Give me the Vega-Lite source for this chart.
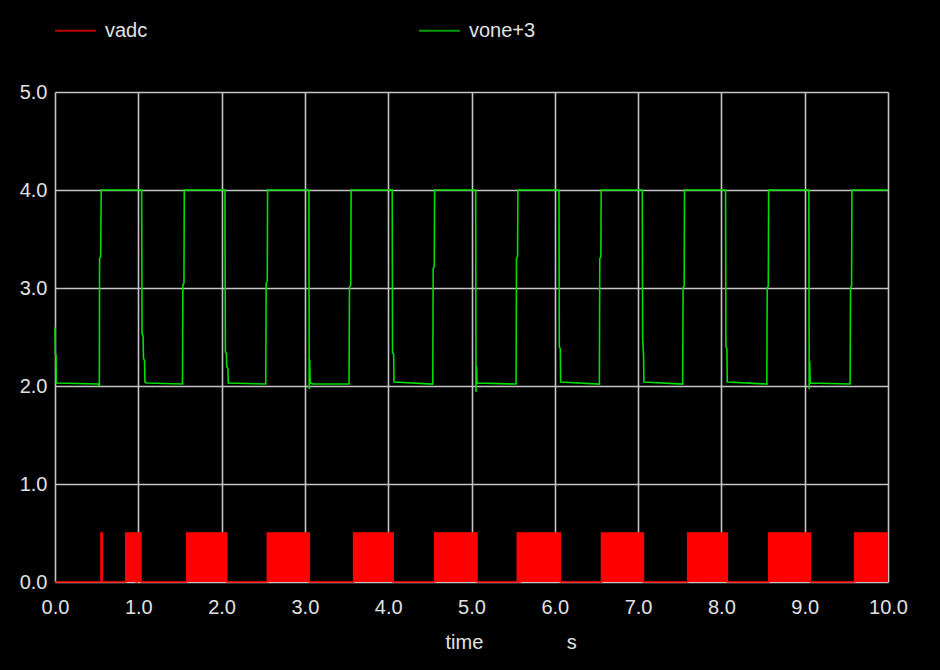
{
  "$schema": "https://vega.github.io/schema/vega-lite/v6.json",
  "width": 833,
  "height": 490,
  "autosize": {"type": "none"},
  "padding": {"left": 55, "top": 92, "right": 52, "bottom": 88},
  "background": "#000000",
  "config": {
    "view": {"stroke": null},
    "font": "Liberation Sans",
    "axis": {
      "grid": true,
      "gridColor": "#c4c4c4",
      "gridWidth": 1.6,
      "domain": false,
      "ticks": false,
      "labelFont": "Liberation Sans",
      "labelFontSize": 20,
      "labelColor": "#e2e2e2",
      "labelFlush": false,
      "labelOverlap": false,
      "labelBound": false,
      "titleFont": "Liberation Sans",
      "titleFontSize": 20,
      "titleFontWeight": "normal",
      "titleColor": "#e2e2e2"
    },
    "legend": {
      "orient": "none",
      "legendX": -1,
      "legendY": -83,
      "direction": "horizontal",
      "symbolType": "stroke",
      "symbolSize": 1681,
      "symbolStrokeWidth": 2,
      "symbolOpacity": 0.72,
      "labelOffset": 8,
      "columnPadding": 267,
      "labelFont": "Liberation Sans",
      "labelFontSize": 20,
      "labelColor": "#e2e2e2"
    }
  },
  "datasets": {
    "vadc": [
      {"t": 0, "v": 0}, {"t": 0.553, "v": 0.5}, {"t": 0.567, "v": 0},
      {"t": 0.849, "v": 0.5}, {"t": 0.972, "v": 0}, {"t": 0.986, "v": 0.5}, {"t": 1.032, "v": 0},
      {"t": 1.581, "v": 0.5}, {"t": 2.061, "v": 0},
      {"t": 2.549, "v": 0.5}, {"t": 3.053, "v": 0},
      {"t": 3.585, "v": 0.5}, {"t": 4.06, "v": 0},
      {"t": 4.558, "v": 0.5}, {"t": 5.066, "v": 0},
      {"t": 5.55, "v": 0.5}, {"t": 5.568, "v": 0}, {"t": 5.586, "v": 0.5}, {"t": 6.065, "v": 0},
      {"t": 6.561, "v": 0.5}, {"t": 7.064, "v": 0},
      {"t": 7.595, "v": 0.5}, {"t": 8.071, "v": 0},
      {"t": 8.569, "v": 0.5}, {"t": 9.067, "v": 0},
      {"t": 9.599, "v": 0.5}, {"t": 10, "v": 0.5}
    ],
    "vone": [
      {"t": 0, "v": 2.6}, {"t": 0.003, "v": 2.33}, {"t": 0.012, "v": 2.31}, {"t": 0.016, "v": 2.03},
      {"t": 0.52, "v": 2.02}, {"t": 0.532, "v": 2.0}, {"t": 0.535, "v": 3.3}, {"t": 0.548, "v": 3.32}, {"t": 0.555, "v": 4.0},
      {"t": 1.04, "v": 4.0}, {"t": 1.045, "v": 2.54}, {"t": 1.058, "v": 2.5}, {"t": 1.062, "v": 2.28}, {"t": 1.075, "v": 2.26}, {"t": 1.08, "v": 2.04}, {"t": 1.1, "v": 2.03},
      {"t": 1.53, "v": 2.02}, {"t": 1.535, "v": 3.03}, {"t": 1.548, "v": 3.05}, {"t": 1.552, "v": 4.0},
      {"t": 2.04, "v": 4.0}, {"t": 2.045, "v": 2.35}, {"t": 2.058, "v": 2.33}, {"t": 2.062, "v": 2.2}, {"t": 2.075, "v": 2.18}, {"t": 2.08, "v": 2.03},
      {"t": 2.53, "v": 2.02}, {"t": 2.535, "v": 3.05}, {"t": 2.548, "v": 3.07}, {"t": 2.552, "v": 4.0},
      {"t": 3.048, "v": 4.0}, {"t": 3.052, "v": 1.97}, {"t": 3.058, "v": 2.27}, {"t": 3.064, "v": 2.03}, {"t": 3.1, "v": 2.02},
      {"t": 3.53, "v": 2.02}, {"t": 3.535, "v": 3.01}, {"t": 3.55, "v": 3.03}, {"t": 3.555, "v": 4.0},
      {"t": 4.048, "v": 4.0}, {"t": 4.052, "v": 2.34}, {"t": 4.065, "v": 2.33}, {"t": 4.07, "v": 2.04},
      {"t": 4.535, "v": 2.02}, {"t": 4.54, "v": 3.2}, {"t": 4.553, "v": 3.22}, {"t": 4.557, "v": 4.0},
      {"t": 5.05, "v": 4.0}, {"t": 5.054, "v": 1.94}, {"t": 5.06, "v": 2.2}, {"t": 5.066, "v": 2.03},
      {"t": 5.535, "v": 2.02}, {"t": 5.54, "v": 3.3}, {"t": 5.553, "v": 3.32}, {"t": 5.557, "v": 4.0},
      {"t": 6.05, "v": 4.0}, {"t": 6.054, "v": 2.4}, {"t": 6.066, "v": 2.38}, {"t": 6.07, "v": 2.04},
      {"t": 6.535, "v": 2.02}, {"t": 6.54, "v": 3.3}, {"t": 6.553, "v": 3.32}, {"t": 6.557, "v": 4.0},
      {"t": 7.05, "v": 4.0}, {"t": 7.054, "v": 2.5}, {"t": 7.066, "v": 2.3}, {"t": 7.07, "v": 2.04},
      {"t": 7.535, "v": 2.02}, {"t": 7.54, "v": 3.0}, {"t": 7.553, "v": 3.02}, {"t": 7.557, "v": 4.0},
      {"t": 8.05, "v": 4.0}, {"t": 8.054, "v": 2.4}, {"t": 8.066, "v": 2.38}, {"t": 8.07, "v": 2.04},
      {"t": 8.545, "v": 2.02}, {"t": 8.55, "v": 3.0}, {"t": 8.563, "v": 3.02}, {"t": 8.567, "v": 4.0},
      {"t": 9.05, "v": 4.0}, {"t": 9.054, "v": 1.97}, {"t": 9.06, "v": 2.25}, {"t": 9.066, "v": 2.03},
      {"t": 9.545, "v": 2.02}, {"t": 9.55, "v": 3.0}, {"t": 9.563, "v": 3.02}, {"t": 9.567, "v": 4.0},
      {"t": 10, "v": 4.0}
    ]
  },
  "encoding": {
    "x": {
      "field": "t",
      "type": "quantitative",
      "scale": {"domain": [0, 10], "nice": false, "zero": false},
      "axis": {
        "values": [0, 1, 2, 3, 4, 5, 6, 7, 8, 9, 10],
        "format": ".1f",
        "labelPadding": 15,
        "title": "time\u00a0\u00a0\u00a0\u00a0\u00a0\u00a0\u00a0\u00a0\u00a0\u00a0\u00a0\u00a0\u00a0\u00a0\u00a0s",
        "titleX": 390,
        "titleY": 66,
        "titleAlign": "left",
        "titleBaseline": "alphabetic",
        "titleAnchor": "start"
      }
    },
    "y": {
      "field": "v",
      "type": "quantitative",
      "scale": {"domain": [0, 5], "nice": false},
      "axis": {
        "values": [0, 1, 2, 3, 4, 5],
        "format": ".1f",
        "labelPadding": 8,
        "title": null
      }
    }
  },
  "layer": [
    {
      "data": {"name": "vadc"},
      "mark": {"type": "area", "interpolate": "step-after", "color": "#ff0000"}
    },
    {
      "data": {"name": "vadc"},
      "mark": {"type": "line", "interpolate": "step-after", "strokeWidth": 1.6},
      "encoding": {
        "color": {
          "datum": "vadc",
          "type": "nominal",
          "scale": {"domain": ["vadc", "vone+3"], "range": ["#ff0000", "#00dd00"]},
          "legend": {"title": null}
        }
      }
    },
    {
      "data": {"name": "vone"},
      "mark": {"type": "line", "strokeWidth": 1.6},
      "encoding": {
        "color": {"datum": "vone+3", "type": "nominal"}
      }
    }
  ]
}
